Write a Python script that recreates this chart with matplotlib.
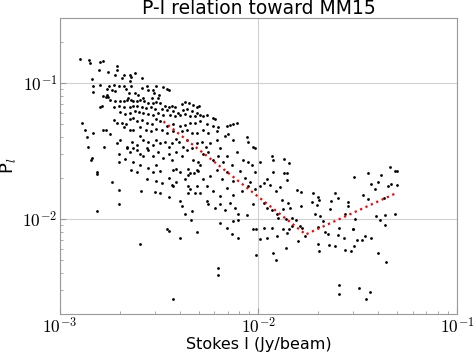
import numpy as np
import matplotlib
matplotlib.use("Agg")
import matplotlib.pyplot as plt
from matplotlib.ticker import FuncFormatter, LogLocator

plt.rcParams['mathtext.fontset'] = 'cm'
plt.rcParams['font.family'] = 'DejaVu Sans'

# Stokes I (Jy/beam) and polarization fraction
stokes_i = [
    # top-left
    1.26e-3, 1.40e-3, 1.41e-3, 1.59e-3, 1.65e-3, 1.58e-3, 1.75e-3, 1.93e-3, 1.94e-3, 1.45e-3,
    1.90e-3, 2.05e-3, 2.10e-3, 2.24e-3, 2.27e-3, 2.39e-3, 2.60e-3, 2.25e-3,
    1.46e-3, 1.47e-3, 1.59e-3, 1.73e-3, 1.77e-3, 1.72e-3, 1.70e-3, 1.75e-3, 1.65e-3, 1.82e-3,
    1.90e-3, 1.86e-3, 1.97e-3, 2.09e-3, 2.15e-3, 2.27e-3, 2.22e-3, 2.39e-3, 2.46e-3, 2.59e-3,
    2.73e-3, 2.78e-3, 2.95e-3, 2.97e-3, 3.04e-3, 3.32e-3, 3.45e-3, 3.55e-3, 3.15e-3, 3.12e-3,
    2.90e-3, 2.62e-3, 2.20e-3, 1.59e-3, 1.63e-3,
    # dense cluster
    1.79e-3, 1.90e-3, 2.01e-3, 2.11e-3, 2.17e-3, 2.27e-3, 2.34e-3, 2.43e-3, 2.53e-3, 2.66e-3,
    2.78e-3, 2.93e-3, 3.06e-3, 3.19e-3, 3.38e-3, 3.52e-3, 3.65e-3, 3.79e-3, 4.10e-3, 4.26e-3,
    4.48e-3, 4.70e-3, 4.88e-3, 5.03e-3, 1.86e-3, 1.97e-3, 2.11e-3, 2.24e-3, 2.34e-3, 2.45e-3,
    2.58e-3, 2.71e-3, 2.87e-3, 3.01e-3, 3.25e-3, 3.45e-3, 3.72e-3, 3.94e-3, 4.15e-3, 4.35e-3,
    4.61e-3, 4.88e-3, 5.07e-3, 5.27e-3, 5.48e-3, 5.92e-3, 6.04e-3, 2.01e-3, 2.13e-3, 2.25e-3,
    2.39e-3, 2.51e-3, 2.63e-3, 2.78e-3, 2.95e-3, 3.12e-3, 3.32e-3, 3.58e-3, 3.79e-3, 4.02e-3,
    4.26e-3, 4.52e-3, 4.79e-3,
    1.29e-3, 1.34e-3, 1.47e-3, 1.65e-3, 1.70e-3, 1.86e-3, 1.93e-3, 2.05e-3, 2.15e-3, 2.25e-3,
    2.34e-3, 2.45e-3, 2.58e-3, 2.73e-3, 2.90e-3, 3.04e-3, 3.19e-3, 3.45e-3, 3.72e-3, 4.02e-3,
    4.26e-3, 4.52e-3, 4.79e-3, 5.07e-3, 5.48e-3, 5.92e-3, 6.28e-3, 6.91e-3, 7.18e-3, 7.46e-3,
    7.76e-3, 2.11e-3, 2.24e-3, 2.34e-3, 2.53e-3, 2.71e-3, 2.87e-3, 3.06e-3, 3.25e-3, 3.45e-3,
    3.72e-3, 4.10e-3, 4.35e-3, 4.61e-3, 4.88e-3, 5.27e-3, 5.59e-3, 6.16e-3,
    1.36e-3, 1.39e-3, 1.66e-3, 1.79e-3, 1.93e-3, 2.01e-3, 2.17e-3, 2.30e-3, 2.43e-3, 2.53e-3,
    2.63e-3, 2.78e-3, 2.95e-3, 3.06e-3, 3.19e-3, 3.38e-3, 3.52e-3, 3.65e-3, 3.83e-3, 3.99e-3,
    4.15e-3, 4.35e-3, 4.61e-3, 4.88e-3, 5.17e-3, 5.44e-3, 5.70e-3, 6.16e-3, 6.40e-3, 6.78e-3,
    7.04e-3, 7.46e-3, 8.71e-3, 8.89e-3, 9.41e-3, 9.59e-3, 2.17e-3, 2.34e-3, 2.73e-3,
    # middle
    1.45e-3, 1.43e-3, 1.97e-3, 2.25e-3, 2.43e-3, 2.53e-3, 2.63e-3, 2.78e-3, 2.95e-3, 3.12e-3,
    3.32e-3, 3.52e-3, 3.65e-3, 3.86e-3, 4.10e-3, 4.35e-3, 4.70e-3, 4.98e-3, 5.27e-3, 5.59e-3,
    5.92e-3, 6.28e-3, 6.65e-3, 6.91e-3, 7.32e-3, 7.76e-3, 8.38e-3, 8.89e-3, 9.24e-3, 1.02e-2,
    1.17e-2, 1.19e-2, 1.97e-3, 2.34e-3, 2.53e-3, 3.06e-3, 5.07e-3,
    1.54e-3, 1.53e-3, 1.82e-3, 2.27e-3, 2.43e-3, 2.73e-3, 2.95e-3, 3.06e-3, 3.19e-3, 3.52e-3,
    3.72e-3, 4.02e-3, 4.43e-3, 4.88e-3, 5.27e-3, 5.70e-3, 6.16e-3, 6.52e-3, 6.91e-3, 7.46e-3,
    8.06e-3, 8.55e-3, 9.06e-3, 9.59e-3, 1.06e-2, 1.10e-2, 1.19e-2,
    2.12e-3, 2.55e-3, 3.54e-3, 4.56e-3, 4.79e-3, 4.88e-3, 4.41e-3, 3.86e-3, 3.67e-3, 4.26e-3,
    4.52e-3, 4.74e-3, 4.39e-3, 4.98e-3, 3.86e-3, 2.77e-3, 3.25e-3,
    1.97e-3, 3.01e-3, 3.19e-3, 3.72e-3, 4.43e-3, 4.52e-3, 5.07e-3, 5.48e-3, 5.92e-3, 6.40e-3,
    6.91e-3, 7.46e-3, 8.22e-3, 8.89e-3, 9.59e-3, 1.02e-2, 1.14e-2, 1.23e-2,
    1.54e-3, 1.97e-3, 4.02e-3, 4.10e-3, 4.61e-3, 4.26e-3, 5.48e-3, 5.59e-3, 6.04e-3, 6.40e-3,
    6.78e-3, 7.18e-3, 7.60e-3, 7.91e-3, 8.71e-3, 9.41e-3, 1.06e-2, 1.10e-2, 1.17e-2, 1.24e-2,
    1.26e-2,
    6.40e-3, 6.91e-3, 7.46e-3, 7.91e-3, 3.45e-3, 3.52e-3, 4.88e-3, 7.32e-3, 7.91e-3, 9.41e-3,
    9.77e-3, 1.06e-2, 1.17e-2, 1.24e-2,
    2.53e-3, 4.02e-3, 1.02e-2, 1.10e-2, 1.19e-2, 1.23e-2, 9.77e-3, 6.28e-3, 6.28e-3, 3.72e-3,
    # right side
    1.35e-2, 1.42e-2, 1.35e-2, 1.40e-2, 1.40e-2, 1.28e-2, 1.57e-2, 1.64e-2, 1.88e-2, 2.00e-2,
    2.01e-2, 2.43e-2, 2.53e-2, 1.32e-2, 1.41e-2, 1.86e-2, 1.97e-2, 2.33e-2, 2.83e-2, 2.83e-2,
    1.33e-2, 1.44e-2, 1.63e-2, 2.29e-2, 2.04e-2, 1.92e-2, 2.72e-2, 1.37e-2, 1.47e-2, 1.55e-2,
    2.11e-2, 3.08e-2, 1.33e-2, 1.43e-2, 1.47e-2, 1.62e-2, 1.66e-2, 2.00e-2, 2.17e-2, 2.24e-2,
    2.53e-2, 2.56e-2, 3.01e-2, 2.69e-2, 3.15e-2, 3.33e-2, 1.40e-2, 1.59e-2, 1.72e-2, 1.38e-2,
    1.99e-2, 2.02e-2, 2.27e-2, 2.43e-2, 2.72e-2, 2.92e-2, 3.04e-2, 4.01e-2, 4.41e-2, 2.56e-2,
    2.56e-2, 3.22e-2, 3.65e-2, 3.47e-2,
    4.59e-2, 4.86e-2, 5.00e-2, 3.56e-2, 4.13e-2, 3.04e-2, 3.67e-2, 4.00e-2, 4.66e-2, 5.00e-2,
    4.52e-2, 3.86e-2, 3.38e-2, 3.58e-2, 4.27e-2, 4.88e-2, 4.34e-2, 3.89e-2, 4.08e-2, 4.34e-2,
    3.00e-2, 3.45e-2, 3.67e-2,
]
pol_frac = [
    0.150, 0.146, 0.140, 0.142, 0.145, 0.124, 0.120, 0.132, 0.124, 0.106,
    0.115, 0.108, 0.115, 0.114, 0.111, 0.119, 0.109, 0.103,
    0.094, 0.086, 0.096, 0.090, 0.094, 0.082, 0.079, 0.079, 0.080, 0.088,
    0.087, 0.097, 0.0945, 0.094, 0.090, 0.094, 0.084, 0.0845, 0.082, 0.092,
    0.094, 0.089, 0.089, 0.084, 0.094, 0.093, 0.090, 0.089, 0.081, 0.077,
    0.077, 0.077, 0.077, 0.067, 0.068,
    0.075, 0.074, 0.074, 0.074, 0.075, 0.075, 0.074, 0.074, 0.075, 0.073,
    0.071, 0.071, 0.072, 0.071, 0.068, 0.067, 0.068, 0.067, 0.070, 0.072,
    0.071, 0.069, 0.067, 0.068, 0.067, 0.068, 0.067, 0.067, 0.068, 0.068,
    0.067, 0.065, 0.067, 0.064, 0.064, 0.063, 0.062, 0.060, 0.063, 0.064,
    0.062, 0.060, 0.058, 0.057, 0.058, 0.055, 0.054, 0.061, 0.059, 0.060,
    0.062, 0.061, 0.060, 0.059, 0.058, 0.060, 0.058, 0.058, 0.057, 0.058,
    0.059, 0.057, 0.057,
    0.051, 0.045, 0.043, 0.045, 0.045, 0.053, 0.051, 0.051, 0.050, 0.054,
    0.055, 0.052, 0.053, 0.051, 0.050, 0.054, 0.052, 0.048, 0.050, 0.048,
    0.049, 0.051, 0.051, 0.052, 0.050, 0.048, 0.047, 0.048, 0.049, 0.050,
    0.051, 0.047, 0.045, 0.045, 0.047, 0.045, 0.044, 0.046, 0.045, 0.043,
    0.044, 0.044, 0.045, 0.043, 0.043, 0.045, 0.043, 0.044,
    0.040, 0.034, 0.034, 0.042, 0.036, 0.038, 0.034, 0.037, 0.035, 0.041,
    0.038, 0.037, 0.035, 0.038, 0.036, 0.037, 0.034, 0.036, 0.039, 0.037,
    0.034, 0.038, 0.033, 0.036, 0.037, 0.034, 0.036, 0.038, 0.033, 0.041,
    0.042, 0.038, 0.040, 0.037, 0.034, 0.033, 0.033, 0.033, 0.033,
    0.028, 0.027, 0.030, 0.031, 0.032, 0.030, 0.029, 0.032, 0.029, 0.031,
    0.028, 0.030, 0.027, 0.031, 0.029, 0.032, 0.027, 0.026, 0.030, 0.031,
    0.027, 0.029, 0.026, 0.029, 0.025, 0.031, 0.027, 0.026, 0.025, 0.026,
    0.029, 0.027, 0.026, 0.026, 0.025, 0.025, 0.025,
    0.022, 0.0215, 0.0186, 0.023, 0.022, 0.0195, 0.022, 0.019, 0.0225, 0.020,
    0.023, 0.022, 0.021, 0.023, 0.0195, 0.0206, 0.023, 0.0195, 0.022, 0.019,
    0.0225, 0.020, 0.0186, 0.022, 0.0184, 0.0195, 0.022,
    0.0276, 0.0161, 0.0146, 0.0099, 0.0154, 0.0174, 0.0174, 0.0187, 0.0179, 0.0196,
    0.0216, 0.0218, 0.0231, 0.0227, 0.0231, 0.0236, 0.0184,
    0.0162, 0.0159, 0.0156, 0.0176, 0.0156, 0.0165, 0.0156, 0.0174, 0.0160, 0.0147,
    0.0170, 0.0151, 0.0160, 0.0174, 0.0165, 0.0174, 0.0179, 0.0160,
    0.0114, 0.0128, 0.0135, 0.0124, 0.0114, 0.0108, 0.0135, 0.0128, 0.0120, 0.0128,
    0.0117, 0.0131, 0.0120, 0.0108, 0.0107, 0.0128, 0.0131, 0.0120, 0.0117, 0.0108,
    0.0102,
    0.0094, 0.0086, 0.0096, 0.0099, 0.0084, 0.0081, 0.0080, 0.0077, 0.0073, 0.0084,
    0.0084, 0.0086, 0.0086, 0.0075,
    0.0065, 0.0073, 0.0071, 0.0072, 0.0056, 0.0050, 0.0054, 0.0044, 0.0039, 0.0026,
    0.0274, 0.0256, 0.0218, 0.0218, 0.0194, 0.0171, 0.0162, 0.0159, 0.0156, 0.0146,
    0.0139, 0.0154, 0.0142, 0.0137, 0.0130, 0.0133, 0.0126, 0.0136, 0.0133, 0.0124,
    0.0119, 0.0121, 0.0124, 0.0119, 0.0106, 0.0109, 0.0108, 0.0100, 0.0101, 0.0099,
    0.0096, 0.0100, 0.0085, 0.0084, 0.0089, 0.0089, 0.0086, 0.0087, 0.0080, 0.0077,
    0.0076, 0.0086, 0.0085, 0.0072, 0.0070, 0.0070, 0.0079, 0.0069, 0.0075, 0.0061,
    0.0066, 0.0058, 0.0064, 0.0063, 0.0059, 0.0058, 0.0063, 0.0056, 0.0048, 0.0033,
    0.0028, 0.0031, 0.0029, 0.0026,
    0.0240, 0.0225, 0.0225, 0.0216, 0.0209, 0.0203, 0.0182, 0.0188, 0.0182, 0.0177,
    0.0174, 0.0165, 0.0150, 0.0140, 0.0142, 0.0109, 0.0107, 0.0105, 0.0098, 0.0090,
    0.0084, 0.0075, 0.0072,
]

# broken power-law fit (red dotted)
fit_i = [3.32e-3, 1.73e-2, 5.0e-2]
fit_p = [0.052, 0.0077, 0.0156]

fig = plt.figure(figsize=(4.73, 3.57), dpi=100)
ax = fig.add_axes([0.127, 0.120, 0.839, 0.830])

ax.scatter(stokes_i, pol_frac, s=4, c='black', marker='o', linewidths=0, zorder=3)
ax.plot(fit_i, fit_p, color='red', linestyle=':', linewidth=1.6, zorder=4)

ax.set_xscale('log')
ax.set_yscale('log')
ax.set_xlim(1e-3, 1e-1)
ax.set_ylim(2e-3, 3e-1)

fmt = FuncFormatter(lambda v, pos: r'$10^{%d}$' % int(round(np.log10(v))))
ax.xaxis.set_major_formatter(fmt)
ax.yaxis.set_major_formatter(fmt)
ax.yaxis.set_major_locator(LogLocator(base=10, numticks=10))

ax.grid(True, which='major', color='#d0d0d0', linewidth=0.8)
ax.set_axisbelow(True)
for sp in ax.spines.values():
    sp.set_color('#999999')
ax.tick_params(which='both', direction='in', colors='#999999', labelcolor='black', labelsize=12.5)
ax.tick_params(which='major', length=4, pad=2)
ax.tick_params(which='minor', length=2)

ax.set_title('P-I relation toward MM15', fontsize=13.5, pad=1)
ax.set_xlabel('Stokes I (Jy/beam)', fontsize=11.5, labelpad=0)
ax.set_ylabel(r'P$_l$', fontsize=13, labelpad=2)

fig.savefig('out.png', dpi=100)
